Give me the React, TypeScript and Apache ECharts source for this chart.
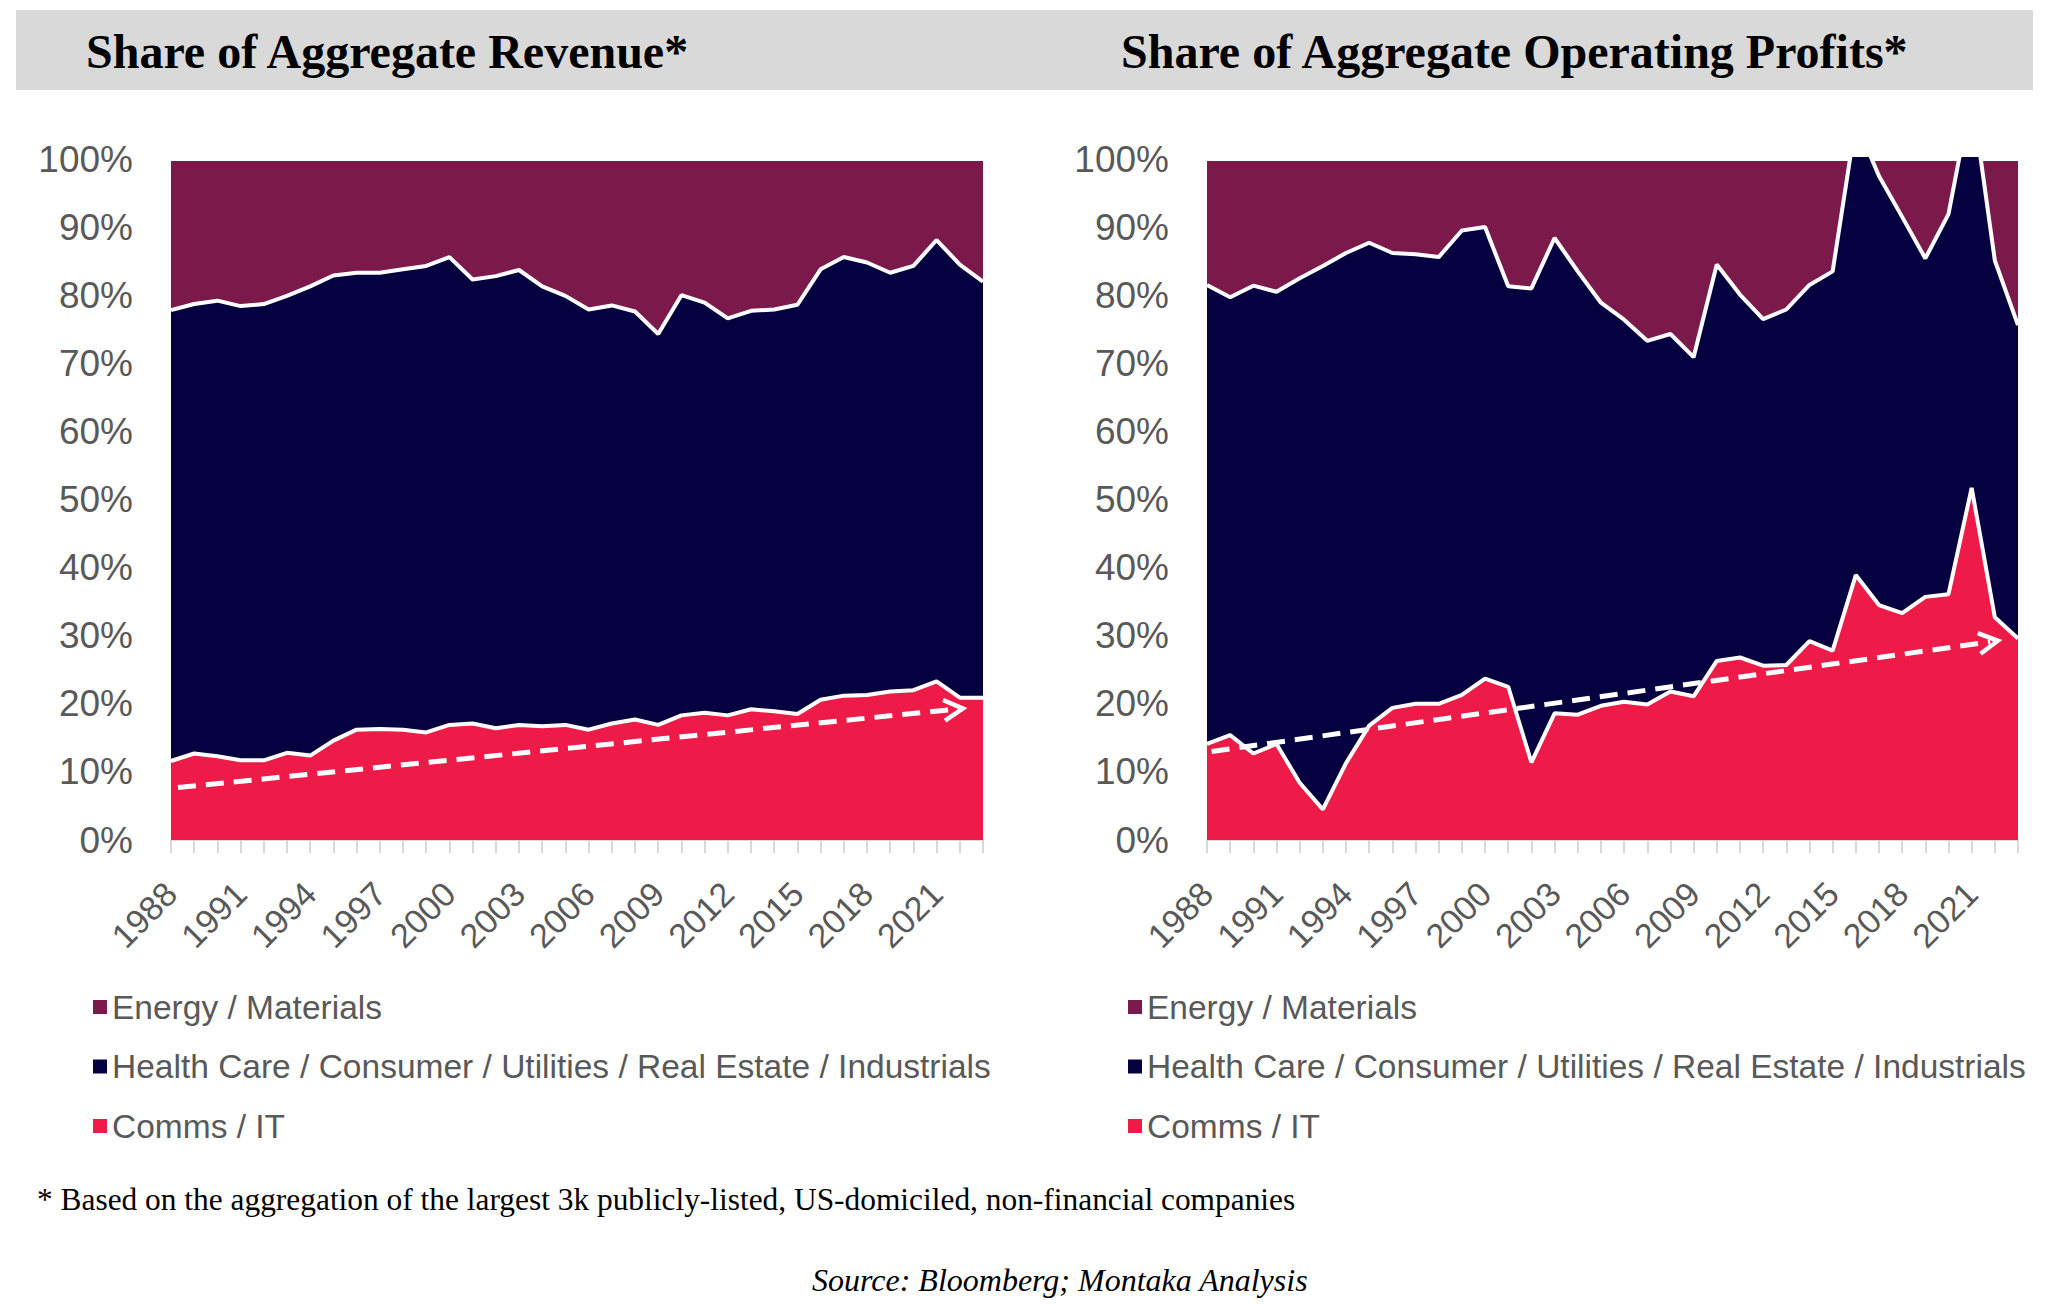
import { useEffect, useRef } from 'react';
import * as echarts from 'echarts';

// 1988 .. 2023, one point per year
const years = [
  '1988', '1989', '1990', '1991', '1992', '1993', '1994', '1995', '1996', '1997', '1998', '1999',
  '2000', '2001', '2002', '2003', '2004', '2005', '2006', '2007', '2008', '2009', '2010', '2011',
  '2012', '2013', '2014', '2015', '2016', '2017', '2018', '2019', '2020', '2021', '2022', '2023',
];

const revenueComms = [
  11.6, 12.7, 12.3, 11.7, 11.7, 12.8, 12.4, 14.6, 16.2, 16.3, 16.2, 15.8,
  16.9, 17.1, 16.4, 16.9, 16.7, 16.9, 16.2, 17.1, 17.7, 16.9, 18.3, 18.7,
  18.3, 19.2, 18.9, 18.5, 20.6, 21.2, 21.3, 21.8, 22.0, 23.3, 20.9, 20.9,
];
const revenueCore = [
  66.2, 66.0, 66.9, 66.7, 67.0, 67.1, 68.9, 68.3, 67.1, 67.0, 67.6, 68.5,
  68.7, 65.2, 66.4, 66.8, 64.6, 63.0, 61.7, 61.4, 59.9, 57.4, 61.7, 60.2,
  58.3, 58.5, 59.0, 60.1, 63.2, 64.4, 63.5, 61.5, 62.3, 64.8, 63.6, 61.1,
];
const revenueEnergy = [
  22.2, 21.3, 20.8, 21.6, 21.3, 20.1, 18.7, 17.1, 16.7, 16.7, 16.2, 15.7,
  14.4, 17.7, 17.2, 16.3, 18.7, 20.1, 22.1, 21.5, 22.4, 25.7, 20.0, 21.1,
  23.4, 22.3, 22.1, 21.4, 16.2, 14.4, 15.2, 16.7, 15.7, 11.9, 15.5, 18.0,
];

const profitComms = [
  14.1, 15.4, 12.7, 14.1, 8.4, 4.5, 11.3, 16.8, 19.4, 20.0, 20.0, 21.3,
  23.7, 22.5, 11.4, 18.6, 18.4, 19.7, 20.3, 19.9, 21.8, 21.1, 26.3, 26.8,
  25.6, 25.7, 29.2, 27.8, 38.9, 34.5, 33.3, 35.7, 36.1, 51.7, 32.7, 29.6,
];
const profitCore = [
  67.4, 64.3, 68.7, 66.4, 74.1, 79.8, 74.9, 70.9, 66.8, 66.0, 65.6, 68.2,
  66.3, 58.8, 69.6, 69.8, 65.1, 59.2, 56.1, 53.4, 52.5, 49.8, 58.2, 53.3,
  50.9, 52.2, 52.3, 55.7, 66.6, 63.0, 58.2, 49.7, 55.8, 57.9, 52.4, 46.0,
];
// energy profits went negative in 2016 and 2021
const profitEnergy = [
  18.5, 20.3, 18.6, 19.5, 17.5, 15.7, 13.8, 12.3, 13.8, 14.0, 14.4, 10.5,
  10.0, 18.7, 19.0, 11.6, 16.5, 21.1, 23.6, 26.7, 25.7, 29.1, 15.5, 19.9,
  23.5, 22.1, 18.5, 16.5, -5.5, 2.5, 8.5, 14.6, 8.1, -9.6, 14.9, 24.4,
];

// dashed trend arrows: [year, share %]
const revenueTrend = [[1988.3, 7.7], [2021.8, 19.2]];
const profitTrend = [[1988.2, 13.0], [2021.8, 29.1]];

const legendNames = [
  'Energy / Materials',
  'Health Care / Consumer / Utilities / Real Estate / Industrials',
  'Comms / IT',
];

const ENERGY = '#7B194B';
const CORE = '#050040';
const COMMS = '#EE1A48';
const GRAY_TEXT = '#595959';
const AXIS_GRAY = '#D9D9D9';
const SANS = '"Liberation Sans", Arial, sans-serif';
const SERIF = '"Liberation Serif", "Times New Roman", serif';

// open chevron pointing up (markLine rotates it along the line)
const chevron =
  'path://M0,0 L0,0 M24,24 L24,24 M1,21 L12,1 L23,21 L19.5,22.9 L12,9.3 L4.5,22.9 Z';

const areaSeries = (idx: number, comms: number[], core: number[], energy: number[], trend: number[][]) => {
  const base = (name: string, data: number[], color: string, z: number) => ({
    name,
    type: 'line',
    xAxisIndex: idx,
    yAxisIndex: idx,
    stack: 'share' + idx,
    stackStrategy: 'all',
    data,
    symbol: 'none',
    showSymbol: false,
    itemStyle: { color },
    lineStyle: { color: '#ffffff', width: 4 },
    areaStyle: { color, opacity: 1 },
    emphasis: { disabled: true },
    z,
  });
  return [
    base(legendNames[2], comms, COMMS, 5),
    base(legendNames[1], core, CORE, 4),
    base(legendNames[0], energy, ENERGY, 3),
    {
      type: 'line',
      xAxisIndex: idx + 2,
      yAxisIndex: idx,
      data: [],
      z: 6,
      markLine: {
        silent: true,
        animation: false,
        z: 10,
        symbol: ['none', chevron],
        symbolSize: 27,
        label: { show: false },
        lineStyle: { color: '#ffffff', width: 5, type: [18, 10], opacity: 1 },
        emphasis: { disabled: true },
        data: [[{ coord: trend[0] }, { coord: trend[1] }]],
      },
    },
  ];
};

const categoryAxis = (gridIndex: number) => ({
  type: 'category',
  gridIndex,
  data: years,
  boundaryGap: false,
  axisLine: { show: true, lineStyle: { color: AXIS_GRAY, width: 2 } },
  axisTick: { show: true, interval: 0, length: 13, lineStyle: { color: AXIS_GRAY, width: 2 } },
  axisLabel: {
    interval: 2,
    rotate: 45,
    margin: 48,
    color: GRAY_TEXT,
    fontSize: 34,
    fontFamily: SANS,
  },
  splitLine: { show: false },
});

const valueAxis = (gridIndex: number) => ({
  type: 'value',
  gridIndex,
  min: 0,
  max: 100,
  interval: 10,
  axisLine: { show: false },
  axisTick: { show: false },
  axisLabel: {
    formatter: '{value}%',
    margin: 38,
    color: GRAY_TEXT,
    fontSize: 37,
    fontFamily: SANS,
  },
  splitLine: { show: true, lineStyle: { color: AXIS_GRAY, width: 2 } },
});

const trendAxis = (gridIndex: number) => ({
  type: 'value',
  gridIndex,
  min: 1988,
  max: 2023,
  show: false,
});

const legendItems = legendNames.map((name, i) => ({
  name,
  itemStyle: { color: [ENERGY, CORE, COMMS][i], borderWidth: 0 },
}));

const legendAt = (left: number) => ({
  left,
  top: 985,
  orient: 'vertical',
  icon: 'rect',
  itemWidth: 14,
  itemHeight: 14,
  itemGap: 25.5,
  selectedMode: false,
  textStyle: { color: GRAY_TEXT, fontSize: 33.5, fontFamily: SANS },
  data: legendItems,
});

const App = () => {
  const divRef = useRef<HTMLDivElement | null>(null);

  useEffect(() => {
    if (!divRef.current) return;
    const chart = echarts.init(divRef.current, undefined, { renderer: 'svg' });

    chart.setOption({
      animation: false,
      backgroundColor: '#ffffff',
      grid: [
        { left: 171, right: 1065, top: 159, bottom: 465, outerBoundsMode: 'none' },
        { left: 1207, right: 30, top: 159, bottom: 465, outerBoundsMode: 'none' },
      ],
      xAxis: [categoryAxis(0), categoryAxis(1), trendAxis(0), trendAxis(1)],
      yAxis: [valueAxis(0), valueAxis(1)],
      legend: [legendAt(88), legendAt(1123)],
      series: [
        ...areaSeries(0, revenueComms, revenueCore, revenueEnergy, revenueTrend),
        ...areaSeries(1, profitComms, profitCore, profitEnergy, profitTrend),
      ],
      graphic: [
        {
          type: 'rect',
          z: -10,
          silent: true,
          shape: { x: 16, y: 10, width: 2017, height: 80 },
          style: { fill: '#D9D9D9' },
        },
        {
          type: 'text',
          x: 86,
          y: 51,
          silent: true,
          style: {
            text: 'Share of Aggregate Revenue*',
            font: `bold 48px ${SERIF}`,
            fill: '#000000',
            verticalAlign: 'middle',
          },
        },
        {
          type: 'text',
          x: 1121,
          y: 51,
          silent: true,
          style: {
            text: 'Share of Aggregate Operating Profits*',
            font: `bold 48px ${SERIF}`,
            fill: '#000000',
            verticalAlign: 'middle',
          },
        },
        {
          type: 'text',
          x: 37,
          y: 1199,
          silent: true,
          style: {
            text: '* Based on the aggregation of the largest 3k publicly-listed, US-domiciled, non-financial companies',
            font: `31.4px ${SERIF}`,
            fill: '#000000',
            verticalAlign: 'middle',
          },
        },
        {
          type: 'text',
          x: 812,
          y: 1280,
          silent: true,
          style: {
            text: 'Source: Bloomberg; Montaka Analysis',
            font: `italic 32px ${SERIF}`,
            fill: '#000000',
            verticalAlign: 'middle',
          },
        },
      ],
    });

    return () => chart.dispose();
  }, []);

  return (
    <div
      ref={divRef}
      style={{ position: 'absolute', left: 0, top: 0, width: 2048, height: 1305 }}
    />
  );
};

export default App;
